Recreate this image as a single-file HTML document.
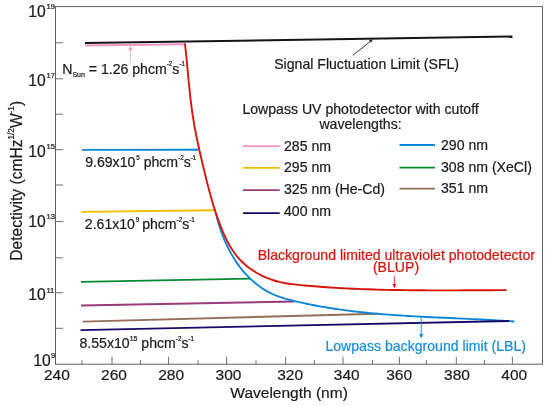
<!DOCTYPE html>
<html><head><meta charset="utf-8"><title>Detectivity</title>
<style>html,body{margin:0;padding:0;background:#fff}svg{display:block}text{font-family:"Liberation Sans",Arial,sans-serif;}</style></head><body>
<svg width="550" height="406" viewBox="0 0 550 406">
<rect width="550" height="406" fill="#fff"/>
<line x1="85.0" y1="45.5" x2="184.5" y2="44.2" stroke="#F096BE" stroke-width="2.00"/>
<line x1="82.0" y1="149.9" x2="198.5" y2="149.8" stroke="#0A87D9" stroke-width="1.90"/>
<line x1="81.3" y1="211.9" x2="214.0" y2="210.2" stroke="#F2BC00" stroke-width="1.90"/>
<line x1="81.0" y1="281.9" x2="250.4" y2="278.6" stroke="#058A34" stroke-width="1.90"/>
<line x1="81.0" y1="305.5" x2="294.0" y2="301.5" stroke="#963C7C" stroke-width="1.90"/>
<line x1="82.5" y1="321.6" x2="378.0" y2="313.7" stroke="#94705A" stroke-width="1.90"/>
<path d="M215.87 213.11 C216.10 214.03 216.74 216.80 217.23 218.65 C217.72 220.50 218.25 222.35 218.81 224.21 C219.37 226.06 219.96 227.92 220.60 229.77 C221.23 231.61 221.90 233.46 222.60 235.30 C223.31 237.13 224.05 238.96 224.83 240.77 C225.61 242.58 226.43 244.39 227.29 246.17 C228.14 247.95 229.04 249.72 229.97 251.46 C230.91 253.20 231.88 254.93 232.90 256.62 C233.91 258.32 234.97 259.99 236.06 261.63 C237.16 263.27 238.29 264.89 239.47 266.46 C240.65 268.04 241.87 269.58 243.13 271.08 C244.39 272.58 245.70 274.05 247.04 275.47 C248.39 276.89 249.78 278.27 251.22 279.61 C252.65 280.94 254.13 282.22 255.65 283.46 C257.16 284.69 258.72 285.87 260.32 286.99 C261.92 288.11 263.55 289.18 265.22 290.18 C266.89 291.18 268.60 292.13 270.34 293.00 C272.08 293.87 273.85 294.67 275.65 295.41 C277.45 296.14 279.29 296.80 281.13 297.41 C282.98 298.03 284.86 298.57 286.75 299.10 C288.63 299.62 290.54 300.09 292.44 300.56 C294.34 301.03 296.25 301.48 298.16 301.91 C300.07 302.35 301.99 302.78 303.90 303.19 C305.81 303.60 307.73 304.00 309.65 304.38 C311.57 304.77 313.49 305.15 315.41 305.51 C317.33 305.87 319.26 306.22 321.18 306.56 C323.11 306.90 325.04 307.23 326.97 307.55 C328.90 307.87 330.83 308.18 332.76 308.48 C334.69 308.77 336.63 309.06 338.57 309.34 C340.50 309.62 342.44 309.88 344.38 310.14 C346.32 310.40 348.26 310.65 350.20 310.89 C352.14 311.14 354.09 311.37 356.03 311.59 C357.97 311.82 359.92 312.03 361.87 312.24 C363.81 312.45 365.76 312.65 367.71 312.84 C369.66 313.04 371.61 313.22 373.56 313.40 C375.51 313.58 377.46 313.76 379.42 313.92 C381.37 314.09 383.32 314.25 385.28 314.41 C387.23 314.56 389.19 314.71 391.14 314.85 C393.10 315.00 395.06 315.13 397.01 315.27 C398.97 315.40 400.93 315.53 402.89 315.65 C404.85 315.78 406.80 315.90 408.76 316.02 C410.72 316.13 412.68 316.24 414.64 316.35 C416.60 316.46 418.56 316.57 420.52 316.67 C422.48 316.78 424.44 316.88 426.40 316.97 C428.36 317.07 430.32 317.17 432.28 317.26 C434.24 317.35 436.20 317.45 438.16 317.54 C440.12 317.63 442.08 317.72 444.04 317.80 C446.00 317.89 447.96 317.98 449.92 318.07 C451.88 318.15 453.84 318.24 455.80 318.33 C457.76 318.41 459.72 318.50 461.67 318.59 C463.63 318.67 465.59 318.76 467.54 318.85 C469.50 318.94 471.46 319.03 473.41 319.12 C475.37 319.21 477.32 319.31 479.28 319.40 C481.23 319.50 483.18 319.59 485.13 319.69 C487.09 319.79 489.04 319.89 490.99 320.00 C492.94 320.11 494.89 320.21 496.83 320.33 C498.78 320.44 500.73 320.55 502.67 320.67 C504.62 320.79 506.56 320.91 508.51 321.04 C510.45 321.17 513.36 321.37 514.33 321.44" fill="none" stroke="#0A87D9" stroke-width="1.9"/>
<line x1="80.5" y1="330.1" x2="509.0" y2="321.0" stroke="#180A66" stroke-width="1.90"/>
<path d="M184.90 43.42 C185.02 44.46 185.38 47.59 185.61 49.68 C185.84 51.77 186.05 53.87 186.27 55.96 C186.48 58.05 186.69 60.15 186.89 62.25 C187.09 64.34 187.29 66.44 187.49 68.54 C187.69 70.64 187.88 72.74 188.08 74.84 C188.28 76.94 188.48 79.04 188.68 81.14 C188.89 83.24 189.09 85.34 189.30 87.44 C189.52 89.54 189.74 91.64 189.96 93.74 C190.19 95.84 190.43 97.93 190.67 100.03 C190.92 102.12 191.18 104.21 191.45 106.30 C191.72 108.39 192.01 110.48 192.31 112.57 C192.61 114.65 192.93 116.73 193.26 118.81 C193.60 120.89 193.95 122.97 194.32 125.04 C194.68 127.11 195.07 129.18 195.46 131.25 C195.85 133.32 196.26 135.38 196.68 137.45 C197.10 139.51 197.53 141.57 197.97 143.63 C198.41 145.69 198.86 147.74 199.32 149.80 C199.78 151.85 200.25 153.91 200.72 155.96 C201.19 158.01 201.67 160.06 202.16 162.11 C202.64 164.16 203.13 166.20 203.62 168.25 C204.11 170.30 204.61 172.34 205.11 174.39 C205.61 176.43 206.11 178.47 206.62 180.51 C207.13 182.55 207.64 184.59 208.17 186.63 C208.70 188.66 209.24 190.70 209.79 192.73 C210.34 194.76 210.90 196.79 211.48 198.81 C212.06 200.84 212.65 202.86 213.26 204.88 C213.87 206.89 214.50 208.91 215.15 210.91 C215.80 212.92 216.47 214.93 217.16 216.93 C217.86 218.92 218.57 220.92 219.32 222.91 C220.06 224.90 220.83 226.88 221.63 228.85 C222.43 230.82 223.26 232.79 224.14 234.73 C225.01 236.66 225.92 238.59 226.88 240.47 C227.85 242.35 228.85 244.21 229.92 246.02 C230.99 247.83 232.10 249.61 233.29 251.33 C234.48 253.05 235.72 254.73 237.04 256.33 C238.37 257.94 239.76 259.49 241.22 260.98 C242.69 262.46 244.22 263.88 245.82 265.23 C247.41 266.58 249.07 267.86 250.78 269.08 C252.48 270.29 254.25 271.44 256.05 272.52 C257.86 273.59 259.71 274.60 261.60 275.53 C263.49 276.46 265.42 277.32 267.37 278.11 C269.33 278.89 271.32 279.60 273.32 280.24 C275.33 280.87 277.36 281.42 279.40 281.91 C281.45 282.41 283.51 282.82 285.58 283.19 C287.66 283.57 289.75 283.88 291.84 284.16 C293.93 284.45 296.04 284.68 298.14 284.91 C300.25 285.13 302.36 285.32 304.47 285.52 C306.58 285.71 308.69 285.89 310.80 286.06 C312.91 286.24 315.02 286.41 317.13 286.57 C319.23 286.73 321.34 286.89 323.45 287.04 C325.56 287.18 327.67 287.33 329.77 287.46 C331.88 287.60 333.99 287.73 336.09 287.85 C338.20 287.98 340.31 288.10 342.41 288.21 C344.52 288.32 346.62 288.43 348.73 288.53 C350.84 288.63 352.94 288.73 355.05 288.82 C357.15 288.91 359.25 289.00 361.36 289.08 C363.46 289.16 365.57 289.24 367.67 289.31 C369.78 289.38 371.88 289.45 373.98 289.51 C376.09 289.57 378.19 289.63 380.30 289.69 C382.40 289.74 384.50 289.79 386.61 289.84 C388.71 289.88 390.81 289.93 392.92 289.97 C395.02 290.01 397.12 290.04 399.23 290.07 C401.33 290.11 403.43 290.14 405.54 290.16 C407.64 290.19 409.74 290.21 411.85 290.23 C413.95 290.25 416.05 290.27 418.16 290.28 C420.26 290.30 422.36 290.31 424.47 290.32 C426.57 290.33 428.68 290.34 430.78 290.35 C432.88 290.35 434.99 290.36 437.09 290.36 C439.20 290.36 441.30 290.36 443.41 290.36 C445.51 290.36 447.62 290.36 449.72 290.35 C451.83 290.35 453.93 290.34 456.04 290.34 C458.14 290.33 460.25 290.32 462.35 290.32 C464.46 290.31 466.57 290.30 468.67 290.29 C470.78 290.28 472.89 290.27 474.99 290.27 C477.10 290.26 479.21 290.25 481.32 290.24 C483.43 290.23 485.53 290.22 487.64 290.21 C489.75 290.20 491.86 290.19 493.97 290.18 C496.08 290.17 498.19 290.17 500.30 290.16 C502.41 290.15 505.58 290.14 506.63 290.14" fill="none" stroke="#D6170D" stroke-width="1.9"/>
<path d="M85 43.1 Q298.7 40.5 512.4 36.5" fill="none" stroke="#151515" stroke-width="2"/>
<line x1="243.0" y1="146.2" x2="279.7" y2="146.2" stroke="#F096BE" stroke-width="1.80"/>
<line x1="243.0" y1="167.8" x2="279.7" y2="167.8" stroke="#F2BC00" stroke-width="1.80"/>
<line x1="243.0" y1="190.1" x2="279.7" y2="190.1" stroke="#963C7C" stroke-width="1.80"/>
<line x1="243.0" y1="213.1" x2="279.7" y2="213.1" stroke="#180A66" stroke-width="1.80"/>
<line x1="399.5" y1="145.0" x2="435.0" y2="145.0" stroke="#0A87D9" stroke-width="1.80"/>
<line x1="399.5" y1="167.6" x2="435.0" y2="167.6" stroke="#058A34" stroke-width="1.80"/>
<line x1="399.5" y1="188.6" x2="435.0" y2="188.6" stroke="#94705A" stroke-width="1.80"/>
<rect x="55.5" y="6.6" width="487.0" height="357.6" fill="none" stroke="#606060" stroke-width="1.0"/>
<line x1="55.5" y1="42.8" x2="63.1" y2="42.8" stroke="#606060" stroke-width="0.90"/>
<line x1="55.5" y1="78.8" x2="63.1" y2="78.8" stroke="#606060" stroke-width="0.90"/>
<line x1="55.5" y1="114.2" x2="63.1" y2="114.2" stroke="#606060" stroke-width="0.90"/>
<line x1="55.5" y1="149.7" x2="63.1" y2="149.7" stroke="#606060" stroke-width="0.90"/>
<line x1="55.5" y1="185.0" x2="63.1" y2="185.0" stroke="#606060" stroke-width="0.90"/>
<line x1="55.5" y1="221.5" x2="63.1" y2="221.5" stroke="#606060" stroke-width="0.90"/>
<line x1="55.5" y1="257.8" x2="63.1" y2="257.8" stroke="#606060" stroke-width="0.90"/>
<line x1="55.5" y1="292.7" x2="63.1" y2="292.7" stroke="#606060" stroke-width="0.90"/>
<line x1="55.5" y1="328.3" x2="63.1" y2="328.3" stroke="#606060" stroke-width="0.90"/>
<line x1="82.0" y1="364.2" x2="82.0" y2="360.2" stroke="#606060" stroke-width="0.90"/>
<line x1="112.0" y1="364.2" x2="112.0" y2="356.8" stroke="#606060" stroke-width="0.90"/>
<line x1="140.4" y1="364.2" x2="140.4" y2="360.2" stroke="#606060" stroke-width="0.90"/>
<line x1="168.6" y1="364.2" x2="168.6" y2="356.8" stroke="#606060" stroke-width="0.90"/>
<line x1="198.0" y1="364.2" x2="198.0" y2="360.2" stroke="#606060" stroke-width="0.90"/>
<line x1="226.6" y1="364.2" x2="226.6" y2="356.8" stroke="#606060" stroke-width="0.90"/>
<line x1="256.0" y1="364.2" x2="256.0" y2="360.2" stroke="#606060" stroke-width="0.90"/>
<line x1="285.6" y1="364.2" x2="285.6" y2="356.8" stroke="#606060" stroke-width="0.90"/>
<line x1="314.4" y1="364.2" x2="314.4" y2="360.2" stroke="#606060" stroke-width="0.90"/>
<line x1="343.0" y1="364.2" x2="343.0" y2="356.8" stroke="#606060" stroke-width="0.90"/>
<line x1="372.5" y1="364.2" x2="372.5" y2="360.2" stroke="#606060" stroke-width="0.90"/>
<line x1="399.4" y1="364.2" x2="399.4" y2="356.8" stroke="#606060" stroke-width="0.90"/>
<line x1="426.4" y1="364.2" x2="426.4" y2="360.2" stroke="#606060" stroke-width="0.90"/>
<line x1="456.3" y1="364.2" x2="456.3" y2="356.8" stroke="#606060" stroke-width="0.90"/>
<line x1="484.4" y1="364.2" x2="484.4" y2="360.2" stroke="#606060" stroke-width="0.90"/>
<line x1="512.4" y1="364.2" x2="512.4" y2="356.8" stroke="#606060" stroke-width="0.90"/>
<text x="56.9" y="380.4" font-size="15.5" text-anchor="middle" fill="#1c1c1c" stroke="#1c1c1c" stroke-width="0.22">240</text>
<text x="114.0" y="380.4" font-size="15.5" text-anchor="middle" fill="#1c1c1c" stroke="#1c1c1c" stroke-width="0.22">260</text>
<text x="171.1" y="380.4" font-size="15.5" text-anchor="middle" fill="#1c1c1c" stroke="#1c1c1c" stroke-width="0.22">280</text>
<text x="228.5" y="380.4" font-size="15.5" text-anchor="middle" fill="#1c1c1c" stroke="#1c1c1c" stroke-width="0.22">300</text>
<text x="290.2" y="380.4" font-size="15.5" text-anchor="middle" fill="#1c1c1c" stroke="#1c1c1c" stroke-width="0.22">320</text>
<text x="346.8" y="380.4" font-size="15.5" text-anchor="middle" fill="#1c1c1c" stroke="#1c1c1c" stroke-width="0.22">340</text>
<text x="399.2" y="380.4" font-size="15.5" text-anchor="middle" fill="#1c1c1c" stroke="#1c1c1c" stroke-width="0.22">360</text>
<text x="457.0" y="380.4" font-size="15.5" text-anchor="middle" fill="#1c1c1c" stroke="#1c1c1c" stroke-width="0.22">380</text>
<text x="514.3" y="380.4" font-size="15.5" text-anchor="middle" fill="#1c1c1c" stroke="#1c1c1c" stroke-width="0.22">400</text>
<text x="28.2" y="16.7" font-size="15.7" fill="#1c1c1c" stroke="#1c1c1c" stroke-width="0.22">10<tspan font-size="7.6" dx="0.8" dy="-7.6">19</tspan></text>
<text x="28.2" y="85.8" font-size="15.7" fill="#1c1c1c" stroke="#1c1c1c" stroke-width="0.22">10<tspan font-size="7.6" dx="0.8" dy="-7.6">17</tspan></text>
<text x="28.2" y="156.8" font-size="15.7" fill="#1c1c1c" stroke="#1c1c1c" stroke-width="0.22">10<tspan font-size="7.6" dx="0.8" dy="-7.6">15</tspan></text>
<text x="28.2" y="226.8" font-size="15.7" fill="#1c1c1c" stroke="#1c1c1c" stroke-width="0.22">10<tspan font-size="7.6" dx="0.8" dy="-7.6">13</tspan></text>
<text x="28.2" y="300.1" font-size="15.7" fill="#1c1c1c" stroke="#1c1c1c" stroke-width="0.22">10<tspan font-size="7.6" dx="0.8" dy="-7.6">11</tspan></text>
<text x="33.2" y="365.6" font-size="15.7" fill="#1c1c1c" stroke="#1c1c1c" stroke-width="0.22">10<tspan font-size="7.6" dx="0.4" dy="-7.6">9</tspan></text>
<text x="289.1" y="397.8" font-size="15.5" text-anchor="middle" fill="#1c1c1c" stroke="#1c1c1c" stroke-width="0.22">Wavelength (nm)</text>
<text transform="translate(21.6,260.8) rotate(-90)" font-size="15.6" fill="#1c1c1c" stroke="#1c1c1c" stroke-width="0.22">Detectivity (cmHz<tspan font-size="8.2" dy="-7.2">1/2</tspan><tspan dy="7.2">W</tspan><tspan font-size="8.2" dy="-7.2">-1</tspan><tspan dy="7.2">)</tspan></text>
<text x="62.2" y="73.7" font-size="14.1" fill="#1c1c1c" stroke="#1c1c1c" stroke-width="0.22">N<tspan font-size="7" dy="3.4">Sun</tspan><tspan dy="-3.4"> = 1.26 phcm</tspan><tspan font-size="6.3" dy="-7.5">-2</tspan><tspan dy="7.5">s</tspan><tspan font-size="6.3" dy="-7.5">-1</tspan></text>
<text x="85.2" y="167.0" font-size="14.1" fill="#1c1c1c" stroke="#1c1c1c" stroke-width="0.22">9.69x10<tspan font-size="6.4" dx="0.8" dy="-7.5">5</tspan><tspan dy="7.5" dx="0.0"> phcm</tspan><tspan font-size="6.3" dy="-7.3">-2</tspan><tspan dy="7.3">s</tspan><tspan font-size="6.3" dy="-7.3">-1</tspan></text>
<text x="84.8" y="228.8" font-size="14.1" fill="#1c1c1c" stroke="#1c1c1c" stroke-width="0.22">2.61x10<tspan font-size="6.4" dx="0.8" dy="-6.5">9</tspan><tspan dy="6.5" dx="-1.1"> phcm</tspan><tspan font-size="6.3" dy="-7.3">-2</tspan><tspan dy="7.3">s</tspan><tspan font-size="6.3" dy="-7.3">-1</tspan></text>
<text x="79.5" y="348.0" font-size="14.1" fill="#1c1c1c" stroke="#1c1c1c" stroke-width="0.22">8.55x10<tspan font-size="6.8" dx="0.2" dy="-7.5">15</tspan><tspan dy="7.5" dx="0.0"> phcm</tspan><tspan font-size="6.3" dy="-7.3">-2</tspan><tspan dy="7.3">s</tspan><tspan font-size="6.3" dy="-7.3">-1</tspan></text>
<text x="274.2" y="68.6" font-size="14.1" fill="#1c1c1c" stroke="#1c1c1c" stroke-width="0.22">Signal Fluctuation Limit (SFL)</text>
<text x="242.4" y="113.8" font-size="14.1" fill="#1c1c1c" stroke="#1c1c1c" stroke-width="0.22">Lowpass UV photodetector with cutoff</text>
<text x="319.4" y="128.6" font-size="14.1" fill="#1c1c1c" stroke="#1c1c1c" stroke-width="0.22">wavelengths:</text>
<text x="284" y="150.5" font-size="14.1" fill="#1c1c1c" stroke="#1c1c1c" stroke-width="0.22">285 nm</text>
<text x="284" y="172.2" font-size="14.1" fill="#1c1c1c" stroke="#1c1c1c" stroke-width="0.22">295 nm</text>
<text x="284" y="194.1" font-size="14.1" fill="#1c1c1c" stroke="#1c1c1c" stroke-width="0.22">325 nm (He-Cd)</text>
<text x="284" y="215.9" font-size="14.1" fill="#1c1c1c" stroke="#1c1c1c" stroke-width="0.22">400 nm</text>
<text x="441" y="149.6" font-size="14.1" fill="#1c1c1c" stroke="#1c1c1c" stroke-width="0.22">290 nm</text>
<text x="441" y="172.1" font-size="14.1" fill="#1c1c1c" stroke="#1c1c1c" stroke-width="0.22">308 nm (XeCl)</text>
<text x="441" y="193.4" font-size="14.1" fill="#1c1c1c" stroke="#1c1c1c" stroke-width="0.22">351 nm</text>
<text x="396.3" y="259.7" font-size="14.1" text-anchor="middle" fill="#D6170D" stroke="#D6170D" stroke-width="0.22">Blackground limited ultraviolet photodetector</text>
<text x="396" y="272.4" font-size="14.1" text-anchor="middle" fill="#D6170D" stroke="#D6170D" stroke-width="0.22">(BLUP)</text>
<text x="325.4" y="350.6" font-size="14.1" fill="#1490DB" stroke="#1490DB" stroke-width="0.22">Lowpass background limit (LBL)</text>
<line x1="130.5" y1="63.0" x2="130.5" y2="50.2" stroke="#F096BE" stroke-width="0.70"/>
<polygon points="130.5,45.9 132.8,50.2 128.2,50.2" fill="#F096BE"/>
<line x1="352.8" y1="55.5" x2="370.0" y2="41.6" stroke="#222" stroke-width="0.90"/>
<polygon points="372.8,39.3 371.0,42.8 369.0,40.3" fill="#222"/>
<line x1="394.4" y1="276.0" x2="394.4" y2="284.1" stroke="#D6170D" stroke-width="0.80"/>
<polygon points="394.4,288.3 392.6,284.1 396.2,284.1" fill="#D6170D"/>
<line x1="421.2" y1="317.0" x2="421.2" y2="334.0" stroke="#0A87D9" stroke-width="0.90"/>
<polygon points="421.2,338.5 419.2,334.0 423.2,334.0" fill="#0A87D9"/>
</svg></body></html>
